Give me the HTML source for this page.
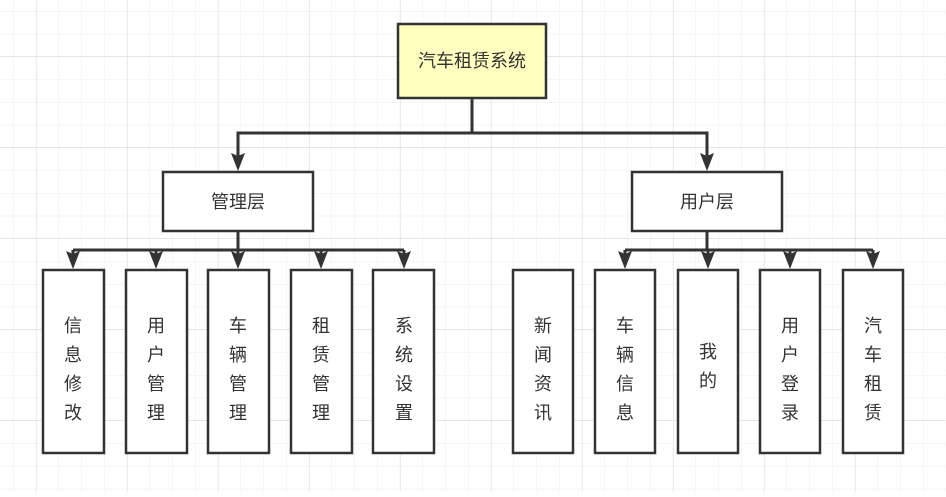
<!DOCTYPE html>
<html><head><meta charset="utf-8"><style>
body{margin:0;}
svg text{font-family:"Liberation Sans","Noto Sans CJK SC",sans-serif;font-size:18px;fill:#333;}
</style></head><body>
<svg width="946" height="492" xmlns="http://www.w3.org/2000/svg">
<defs>
<pattern id="minor" x="13" y="11" width="22.75" height="22.75" patternUnits="userSpaceOnUse">
<path d="M0 0H22.75M0 0V22.75" stroke="#ededed" stroke-width="1" fill="none"/>
</pattern>
<pattern id="major" x="36" y="56" width="91" height="91" patternUnits="userSpaceOnUse">
<path d="M0 0H91M0 0V91" stroke="#e2e2e2" stroke-width="1.3" fill="none"/>
</pattern>
<path id="ah" d="M-7 -18L0 0L7 -18L0 -15Z" fill="#333"/>
</defs>
<rect width="946" height="492" fill="#fff"/>
<rect width="946" height="492" fill="url(#minor)"/>
<rect width="946" height="492" fill="url(#major)"/>
<g stroke="#333" stroke-width="3" fill="none">
<path d="M472 98V133H238V158"/>
<path d="M472 133H707V158"/>
<path d="M238 231V250"/>
<path d="M73 250H404"/>
<path d="M707 231V250"/>
<path d="M625 250H873"/>
<path d="M73 250V256M156 250V256M238 250V256M321 250V256M404 250V256M625 250V256M708 250V256M790 250V256M873 250V256"/>
</g>
<use href="#ah" x="238" y="171"/><use href="#ah" x="707" y="171"/>
<use href="#ah" x="73" y="269"/><use href="#ah" x="156" y="269"/><use href="#ah" x="238" y="269"/><use href="#ah" x="321" y="269"/><use href="#ah" x="404" y="269"/>
<use href="#ah" x="625" y="269"/><use href="#ah" x="708" y="269"/><use href="#ah" x="790" y="269"/><use href="#ah" x="873" y="269"/>
<g stroke="#333" stroke-width="2.5">
<rect x="398" y="24" width="148" height="74" fill="#ffffc0"/>
<rect x="163" y="172" width="150" height="59" fill="#fff"/>
<rect x="632" y="172" width="150" height="59" fill="#fff"/>
<g fill="#fff">
<rect x="43" y="270" width="61" height="183"/><rect x="126" y="270" width="61" height="183"/><rect x="208" y="270" width="61" height="183"/><rect x="291" y="270" width="61" height="183"/><rect x="373" y="270" width="61" height="183"/>
<rect x="513" y="270" width="60" height="183"/><rect x="595" y="270" width="60" height="183"/><rect x="678" y="270" width="60" height="183"/><rect x="760" y="270" width="60" height="183"/><rect x="843" y="270" width="60" height="183"/>
</g>
</g>
<g text-anchor="middle">
<text x="472" y="67">汽车租赁系统</text>
<text x="238" y="208">管理层</text>
<text x="707" y="208">用户层</text>
</g>
<g text-anchor="middle">
<text x="73" y="332">信</text><text x="73" y="361">息</text><text x="73" y="390">修</text><text x="73" y="419">改</text>
<text x="156" y="332">用</text><text x="156" y="361">户</text><text x="156" y="390">管</text><text x="156" y="419">理</text>
<text x="238" y="332">车</text><text x="238" y="361">辆</text><text x="238" y="390">管</text><text x="238" y="419">理</text>
<text x="321" y="332">租</text><text x="321" y="361">赁</text><text x="321" y="390">管</text><text x="321" y="419">理</text>
<text x="404" y="332">系</text><text x="404" y="361">统</text><text x="404" y="390">设</text><text x="404" y="419">置</text>
<text x="543" y="332">新</text><text x="543" y="361">闻</text><text x="543" y="390">资</text><text x="543" y="419">讯</text>
<text x="625" y="332">车</text><text x="625" y="361">辆</text><text x="625" y="390">信</text><text x="625" y="419">息</text>
<text x="708" y="358">我</text><text x="708" y="387">的</text>
<text x="790" y="332">用</text><text x="790" y="361">户</text><text x="790" y="390">登</text><text x="790" y="419">录</text>
<text x="873" y="332">汽</text><text x="873" y="361">车</text><text x="873" y="390">租</text><text x="873" y="419">赁</text>
</g>
</svg>
</body></html>
